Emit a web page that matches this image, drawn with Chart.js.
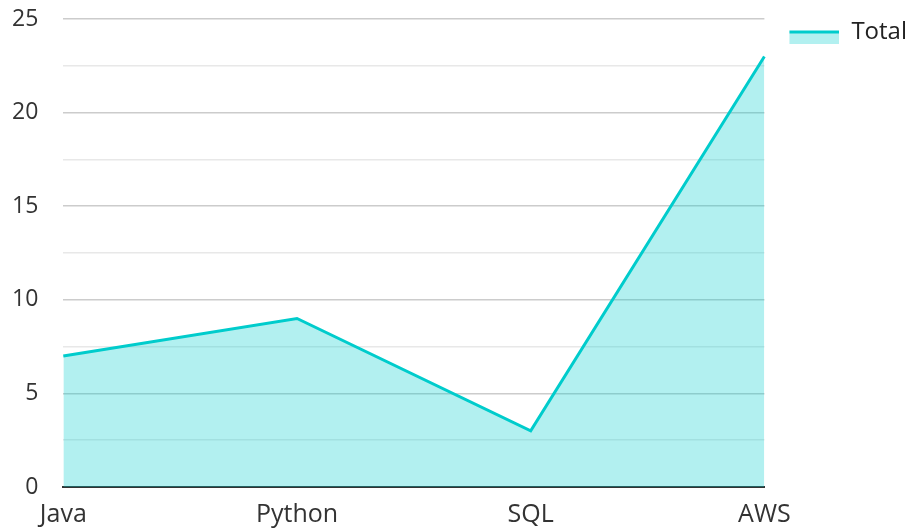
<!DOCTYPE html>
<html>
<head>
<meta charset="utf-8">
<script src="https://cdn.jsdelivr.net/npm/chart.js@4"></script>
<style>
  html, body { margin: 0; padding: 0; background: #fff; }
  #wrap { width: 907px; height: 529px; position: relative; }
</style>
</head>
<body>
<div id="wrap"><canvas id="skillsChart"></canvas></div>
<script>
const skills = ['Java', 'Python', 'SQL', 'AWS'];
const totals = [7, 9, 3, 23];
const seriesName = 'Total';

const LINE = '#00cccc';
const FILL = 'rgba(0, 204, 204, 0.3)';

// legend swatch: thick line on top, fill below; blank margin left/top to place it
function makeSwatch() {
  const c = document.createElement('canvas');
  c.width = 74; c.height = 23;
  const g = c.getContext('2d');
  g.fillStyle = FILL;
  g.fillRect(24, 13, 50, 10);
  g.fillStyle = LINE;
  g.fillRect(24, 10, 50, 3);
  return c;
}

Chart.defaults.font.family = '"Open Sans", sans-serif';
Chart.defaults.font.size = 23;
Chart.defaults.color = '#333';

const ctx = document.getElementById('skillsChart').getContext('2d');
new Chart(ctx, {
  type: 'line',
  data: {
    labels: skills,
    datasets: [{
      label: seriesName,
      data: totals,
      borderColor: LINE,
      backgroundColor: FILL,
      borderWidth: 3,
      fill: 'origin',
      tension: 0,
      pointRadius: 0,
      pointHoverRadius: 0
    }]
  },
  options: {
    responsive: true,
    maintainAspectRatio: false,
    animation: false,
    layout: { padding: { left: 12, right: -10, top: 19, bottom: 0 } },
    plugins: {
      tooltip: { enabled: false },
      legend: {
        position: 'right',
        align: 'start',
        labels: {
          usePointStyle: true,
          pointStyle: makeSwatch(),
          pointStyleWidth: 74,
          boxHeight: 13,
          padding: 1,
          color: '#222',
          font: { size: 24 }
        }
      }
    },
    scales: {
      x: {
        offset: false,
        grid: { display: false, drawTicks: false },
        border: { display: true, color: '#333', width: 2 },
        ticks: { color: '#333', padding: 13, maxRotation: 0, font: { size: 25 } },
        afterFit: s => { s.height = 42; }
      },
      y: {
        min: 0,
        max: 25,
        ticks: {
          stepSize: 2.5,
          padding: 0,
          color: '#333',
          callback: v => (v % 5 === 0 ? v : '')
        },
        grid: {
          drawTicks: true,
          tickLength: 25,
          tickColor: 'rgba(0,0,0,0)',
          lineWidth: 1.5,
          color: c => (c.tick && c.tick.value % 5 === 0 ? '#cccccc' : '#e8e8e8')
        },
        border: { display: false }
      }
    }
  }
});
</script>
</body>
</html>
